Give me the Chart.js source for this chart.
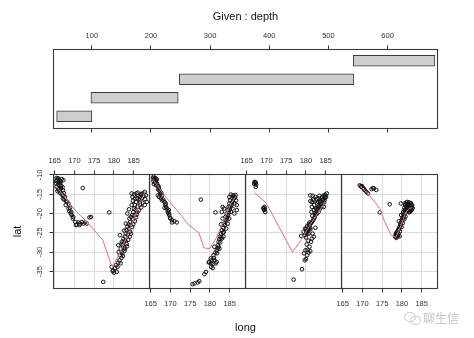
<!DOCTYPE html>
<html>
<head>
<meta charset="utf-8">
<script src="https://cdn.jsdelivr.net/npm/chart.js@4/dist/chart.umd.min.js"></script>
<style>
html, body { margin: 0; padding: 0; background: #fff; }
#wrap { position: relative; width: 474px; height: 338px; overflow: hidden; background: #fff;
        font-family: "Liberation Sans", Arial, sans-serif; }
#wrap canvas { position: absolute; left: 0; top: 0; }
#xlab { position: absolute; left: 245.5px; top: 321px; transform: translateX(-50%);
        font-size: 11px; line-height: 13px; color: #111; white-space: nowrap; }
#mark { position: absolute; left: 423px; top: 310px; font-family: "Noto Sans CJK SC", sans-serif;
        font-size: 12px; line-height: 16px; color: #c6c6c6; white-space: nowrap; }
.bub { position: absolute; border: 1px solid #cfcfcf; border-radius: 50%; }
</style>
</head>
<body>
<div id="wrap">
  <canvas id="given" width="474" height="338"></canvas>
  <canvas id="p0" width="474" height="338"></canvas>
  <canvas id="p1" width="474" height="338"></canvas>
  <canvas id="p2" width="474" height="338"></canvas>
  <canvas id="p3" width="474" height="338"></canvas>
  <div id="xlab">long</div>
  <div class="bub" style="left:404px;top:312px;width:10px;height:8px;"></div>
  <div class="bub" style="left:410px;top:316px;width:9px;height:7px;"></div>
  <div id="mark">聊生信</div>
</div>
<script>
// Conditioning intervals on depth (one bar per panel)
const depthTicks = [100, 200, 300, 400, 500, 600];
const intervalRow = [1, 2, 3, 4];
const intervalLow = [40.5, 98.5, 248, 542];
const intervalHigh = [100, 246, 543, 680];

// Panel axes
const longTicks = [165, 170, 175, 180, 185];
const latTicks = [-35, -30, -25, -20, -15, -10];

// Epicentres [long, lat] for each depth interval
const quakes1 = [
  [165.5,-10.8],[166.0,-11.0],[165.7,-11.4],[166.2,-11.6],[166.8,-11.1],[167.2,-11.4],[165.4,-12.2],[165.9,-12.5],
  [166.4,-12.2],[165.5,-13.1],[166.1,-13.4],[166.6,-13.5],[167.1,-14.0],[165.7,-14.2],[166.4,-14.7],[166.8,-15.1],
  [167.2,-15.4],[167.6,-15.7],[167.1,-16.1],[167.4,-16.4],[167.8,-17.8],[168.5,-17.4],[168.9,-18.5],[168.7,-19.4],
  [169.1,-20.0],[169.3,-20.4],[169.7,-20.9],[169.6,-21.3],[170.2,-22.2],[170.6,-22.8],[171.0,-22.3],[171.4,-22.6],
  [171.9,-22.2],[172.3,-22.6],[172.7,-22.3],[173.1,-22.6],[170.4,-23.0],[171.3,-23.0],[173.8,-21.0],[174.2,-20.9],
  [172.1,-13.4],[178.8,-19.7],[177.3,-37.7],[165.4,-11.6],[166.0,-12.0],[166.6,-12.8],[165.9,-13.7],[166.2,-14.2],
  [167.3,-14.7],[167.9,-16.8],[168.1,-17.0],[168.5,-18.7],[169.2,-19.6],[165.8,-10.9],[166.5,-11.7],[167.0,-13.2],
  [179.4,-33.8],[179.8,-34.7],[180.0,-35.3],[179.7,-34.9],[180.3,-34.1],[180.5,-33.4],[181.1,-32.7],[181.4,-32.1],
  [181.7,-32.9],[180.7,-35.1],[181.5,-30.8],[182.0,-29.9],[181.7,-29.1],[182.2,-28.2],[182.5,-27.3],[182.4,-26.5],
  [182.8,-26.0],[183.0,-25.2],[183.2,-24.3],[183.4,-23.4],[183.7,-22.8],[184.1,-22.2],[183.9,-21.3],[184.3,-20.9],
  [184.6,-20.4],[184.9,-19.6],[185.1,-18.7],[185.3,-17.8],[185.6,-17.0],[185.9,-16.1],[186.6,-15.7],[187.0,-15.1],
  [187.4,-14.8],[187.8,-14.4],[188.1,-15.3],[184.7,-15.7],[184.5,-14.8],[185.1,-15.1],[185.7,-14.8],[186.2,-15.4],
  [188.3,-17.0],[187.8,-17.8],[186.6,-17.8],[184.1,-24.7],[182.8,-29.1],[182.0,-27.3],[183.2,-27.9],[181.1,-28.2],
  [181.5,-25.6],[183.8,-18.9],[183.0,-22.6],[184.5,-17.8],[185.9,-19.6],[186.6,-17.0],[182.6,-28.8],[182.9,-27.0],
  [183.5,-25.5],[183.8,-24.0],[184.2,-23.0],[184.8,-21.5],[185.2,-20.5],[185.5,-19.0],[186.0,-18.2],[186.5,-16.5],
  [187.0,-16.0],[187.5,-15.5],[182.3,-31.0],[181.9,-31.5],[180.9,-33.8],[184.0,-26.0],[184.6,-23.5],[185.6,-21.0],
  [182.1,-30.4],[182.7,-29.6],[183.3,-28.5],[183.6,-26.8],[184.3,-25.2],[184.9,-22.8],[185.3,-22.0],[185.8,-20.2],
  [186.3,-19.2],[186.9,-18.4],[187.2,-17.2],[187.9,-16.3],[186.0,-14.6],[186.9,-14.9],[184.8,-16.7],[185.4,-16.2],
  [183.4,-20.0],[182.6,-24.4],[181.9,-27.9],[181.2,-30.0]
];
const quakes2 = [
  [165.7,-10.5],[166.0,-11.0],[166.2,-10.8],[166.4,-11.4],[165.7,-11.6],[166.1,-12.0],[166.6,-12.2],[166.4,-12.7],
  [166.8,-12.8],[167.1,-13.4],[167.2,-14.0],[167.4,-14.4],[166.8,-15.3],[167.1,-15.7],[167.6,-16.1],[167.9,-16.6],
  [168.5,-17.0],[168.7,-17.7],[168.9,-18.3],[169.1,-18.7],[169.3,-19.4],[169.6,-20.0],[169.7,-20.4],[169.9,-21.1],
  [170.4,-21.7],[171.0,-22.0],[171.6,-22.3],[170.4,-22.3],[169.6,-19.1],[168.5,-18.5],[167.9,-15.3],[165.9,-11.2],
  [166.3,-11.8],[165.8,-12.4],[167.0,-13.0],[167.5,-15.0],[168.2,-16.4],[168.8,-17.4],[169.4,-19.8],[170.0,-21.3],
  [165.6,-10.9],[166.5,-11.1],[166.9,-13.8],[167.7,-14.7],
  [177.7,-16.4],[181.4,-19.7],
  [175.6,-38.3],[176.1,-38.1],[176.9,-37.8],[177.3,-37.5],[178.6,-35.7],[179.0,-35.1],[179.8,-32.5],[180.3,-32.9],
  [180.3,-33.8],[180.7,-34.1],[180.4,-32.1],[181.1,-32.1],[181.5,-32.9],[179.7,-32.7],[180.9,-30.8],[181.4,-30.1],
  [181.7,-29.5],[181.1,-28.6],[182.0,-28.2],[182.2,-27.3],[182.4,-26.6],[182.5,-26.0],[182.8,-25.2],[183.0,-24.3],
  [183.4,-23.7],[182.8,-22.8],[183.6,-22.6],[184.1,-21.7],[183.9,-20.9],[184.2,-20.0],[184.5,-19.1],[184.7,-18.3],
  [184.9,-17.4],[185.1,-16.6],[184.9,-15.7],[185.3,-15.1],[185.9,-15.3],[186.4,-15.7],[186.6,-16.6],[186.2,-17.4],
  [186.8,-17.8],[185.7,-18.7],[185.3,-19.6],[186.2,-20.0],[184.9,-21.3],[184.5,-22.6],[183.2,-18.3],[183.6,-18.7],
  [183.0,-19.6],[184.1,-23.9],[183.4,-26.0],[182.4,-29.1],[181.8,-30.3],[183.2,-21.3],[185.7,-16.1],[186.8,-19.1],
  [182.0,-29.0],[182.6,-27.5],[183.0,-26.5],[183.5,-24.8],[183.8,-23.0],[184.3,-21.2],[184.6,-20.4],[185.0,-18.8],
  [185.4,-17.8],[185.8,-16.8],[186.2,-16.0],[181.0,-31.5],[180.8,-33.0],[181.7,-32.5],[180.2,-31.6],
  [182.2,-28.6],[182.9,-26.2],[183.3,-25.0],[183.9,-22.2],[184.4,-20.9],[184.8,-19.7],[185.2,-18.3],[185.6,-17.2],
  [186.0,-15.6],[186.5,-15.2]
];
const quakes3 = [
  [167.1,-11.9],[167.2,-12.2],[167.4,-12.5],[166.9,-12.3],[167.3,-13.1],[167.0,-11.8],[167.3,-12.0],
  [169.3,-18.5],[169.6,-18.9],[169.7,-19.6],[169.4,-19.1],[169.2,-18.7],[169.5,-18.3],
  [176.9,-37.1],[179.0,-34.4],[179.7,-32.1],[180.0,-31.8],[180.3,-30.8],[180.7,-30.1],[181.1,-29.7],[180.9,-28.6],
  [181.3,-27.3],[181.5,-26.5],[179.4,-24.7],[178.8,-25.8],[179.8,-23.9],[180.3,-23.3],[180.7,-22.8],[181.1,-23.7],
  [181.7,-25.2],[182.0,-26.0],[180.7,-25.2],[180.3,-24.7],[181.5,-22.2],[182.0,-21.3],[182.4,-20.4],[182.8,-20.0],
  [183.2,-19.6],[183.6,-18.7],[183.9,-18.3],[184.2,-17.4],[184.7,-16.6],[185.1,-15.7],[184.9,-15.1],[184.5,-15.3],
  [184.1,-15.7],[183.2,-16.1],[182.4,-15.7],[182.0,-16.6],[181.5,-17.0],[181.1,-16.8],[181.5,-18.3],[182.0,-19.1],
  [182.8,-17.4],[183.2,-18.3],[184.5,-18.3],[185.3,-14.8],[184.9,-15.9],[182.5,-18.7],[183.6,-17.0],[181.4,-19.6],
  [181.1,-15.3],[181.7,-15.4],[182.4,-23.7],[180.3,-25.2],[179.7,-25.6],[181.1,-24.1],[180.7,-23.9],[180.0,-24.0],
  [180.5,-23.8],[181.0,-23.0],[181.3,-22.5],[181.8,-21.8],[182.2,-21.0],[182.6,-20.0],[183.0,-19.0],[183.4,-18.0],
  [183.8,-17.5],[184.3,-16.5],[184.8,-15.5],[182.7,-16.2],[183.4,-15.4],[180.2,-28.0],[180.6,-27.0],[179.9,-29.5],
  [180.1,-24.6],[180.6,-24.3],[180.9,-22.3],[181.6,-20.6],[182.3,-19.8],[182.9,-18.6],[183.5,-16.6],[184.0,-16.2],
  [184.6,-17.1],[183.1,-17.0],[182.1,-17.8],[181.8,-16.3],[179.5,-30.3],[180.4,-29.4],[180.0,-26.2]
];
const quakes4 = [
  [169.3,-12.7],[169.6,-12.9],[169.7,-13.1],[169.9,-12.9],[170.2,-13.4],[170.4,-13.7],[170.6,-14.0],[171.0,-14.4],
  [171.4,-14.8],[172.3,-13.7],[172.7,-13.4],[172.9,-13.5],[173.5,-13.9],[174.4,-19.7],[176.9,-17.6],[179.7,-17.4],
  [180.7,-17.4],[181.1,-17.2],[181.5,-17.6],[182.0,-17.4],[182.4,-17.8],[181.1,-18.3],[181.7,-18.5],[182.2,-18.9],
  [182.5,-18.3],[181.4,-19.1],[182.0,-19.6],[180.7,-19.1],[180.3,-19.6],[180.5,-20.4],[180.3,-21.3],[180.0,-21.7],
  [179.8,-22.3],[179.7,-23.0],[179.4,-23.4],[179.2,-23.9],[179.0,-24.3],[178.8,-24.7],[178.7,-25.2],[178.5,-25.6],
  [178.3,-26.0],[178.6,-26.3],[179.0,-25.8],[179.4,-25.9],[179.8,-20.4],[180.3,-20.0],[181.3,-17.0],[181.8,-17.1],
  [182.3,-17.3],[182.6,-17.9],[182.7,-18.6],[181.9,-18.0],[181.2,-18.8],[180.9,-19.8],[181.6,-19.3],[180.8,-17.8],
  [180.6,-18.5],[182.3,-19.3],[180.9,-20.8],[180.6,-21.5],[180.2,-22.5],[179.9,-23.5],[179.5,-24.6],[179.1,-25.2],
  [178.6,-25.0],[178.4,-25.4],[178.5,-26.1],[179.2,-22.0],[181.0,-17.6],[181.6,-17.9],[182.1,-18.2],[182.5,-19.0],
  [181.4,-18.4],[180.9,-18.9],[181.8,-19.7],[180.4,-20.9],[180.1,-21.1],[179.6,-22.7],[179.3,-24.0],[178.9,-25.6]
];

// Local smoother through each panel [long, lat]
const smooth1 = [[165.5,-13.0],[167.6,-15.9],[170.5,-19.5],[173.3,-22.3],[177.2,-26.9],[179.3,-33.2],[179.8,-33.6],
                 [181.5,-30.1],[184.0,-24.3],[186.2,-18.3],[188.0,-14.0]];
const smooth2 = [[165.5,-11.1],[168.1,-14.8],[170.3,-17.5],[174.7,-23.0],[177.2,-25.0],[178.5,-28.9],[179.9,-29.1],
                 [181.5,-26.5],[183.6,-21.7],[185.3,-17.4],[186.9,-15.1]];
const smooth3 = [[167.0,-14.6],[169.9,-17.2],[176.6,-30.0],[178.9,-26.7],[181.0,-23.0],[183.3,-19.5],[184.8,-17.0]];
const smooth4 = [[169.3,-12.9],[171.4,-14.8],[174.4,-18.7],[175.6,-22.0],[177.3,-25.7],[178.5,-26.1],[179.8,-23.0],
                 [181.0,-19.6],[181.9,-18.7],[182.5,-18.5]];

const FAMILY = '"Liberation Sans", Arial, sans-serif';
const TICK_FONT = { family: FAMILY, size: 7.5 };
const INK = '#333';
const GRID = '#dcdcdc';

// Draws a box round the plotting region
const frame = {
  id: 'frame',
  afterDraw(chart) {
    const a = chart.chartArea, c = chart.ctx;
    c.save();
    c.strokeStyle = '#3a3a3a';
    c.lineWidth = 1.1;
    c.strokeRect(a.left, a.top, a.right - a.left, a.bottom - a.top);
    c.restore();
  }
};
const useTicks = list => s => { s.ticks = list.map(v => ({ value: v })); };

// Given panel: horizontal floating bars for the depth intervals
new Chart(document.getElementById('given'), {
  type: 'bar',
  data: {
    datasets: [{
      data: intervalRow.map((r, i) => ({ x: [intervalLow[i], intervalHigh[i]], y: r })),
      backgroundColor: '#cecece',
      borderColor: '#3a3a3a',
      borderWidth: 1,
      borderSkipped: false,
      barThickness: 11
    }]
  },
  options: {
    indexAxis: 'y',
    responsive: false, animation: false, devicePixelRatio: 1, events: [],
    layout: { padding: { left: 53.5, right: 36.5, top: 0, bottom: 199.5 } },
    plugins: {
      legend: { display: false },
      tooltip: { enabled: false },
      title: { display: true, text: 'Given : depth', color: '#111',
               font: { family: FAMILY, size: 11, weight: 'normal' },
               padding: { top: 10.4, bottom: 0 } }
    },
    scales: {
      x: { type: 'linear', position: 'top', min: 35.2, max: 684.4,
           afterBuildTicks: useTicks(depthTicks),
           grid: { drawOnChartArea: false, tickLength: 4, tickColor: INK },
           border: { display: false },
           ticks: { font: TICK_FONT, color: INK, padding: 4.8 },
           afterFit: s => { s.height = 25.9; } },
      x2: { type: 'linear', axis: 'x', position: 'bottom', min: 35.2, max: 684.4,
            afterBuildTicks: useTicks(depthTicks),
            grid: { drawOnChartArea: false, tickLength: 4, tickColor: INK },
            border: { display: false },
            ticks: { display: false },
            afterFit: s => { s.height = 10; } },
      y: { type: 'linear', min: 0.34, max: 4.61, offset: false, display: false }
    }
  },
  plugins: [frame]
});

// Dependence panels: lat against long within each depth interval
function panel(id, i, pts, smooth) {
  const L = 53.5 + 96 * i, R = L + 96;
  const onTop = i % 2 === 0;
  new Chart(document.getElementById(id), {
    type: 'scatter',
    data: {
      datasets: [
        { data: smooth.map(([x, y]) => ({ x, y })), showLine: true, borderColor: '#E07088',
          borderWidth: 1, pointRadius: 0, order: 0 },
        { data: pts.map(([x, y]) => ({ x, y })), pointRadius: 1.8, borderWidth: 1,
          borderColor: '#111', backgroundColor: 'rgba(0,0,0,0)', order: 1 }
      ]
    },
    options: {
      responsive: false, animation: false, devicePixelRatio: 1, events: [],
      layout: { padding: { left: i === 0 ? 0 : L, right: 474 - R,
                           top: onTop ? 144.5 : 174.5, bottom: onTop ? 49.5 : 19.5 } },
      plugins: { legend: { display: false }, tooltip: { enabled: false } },
      scales: {
        x: { type: 'linear', position: onTop ? 'top' : 'bottom', min: 164.7, max: 189,
             afterBuildTicks: useTicks(longTicks),
             grid: { color: GRID, tickColor: INK, tickLength: 4 },
             border: { display: false },
             ticks: { font: TICK_FONT, color: INK, padding: onTop ? 5.3 : 6.8 },
             afterFit: s => { s.height = 30; } },
        y: { type: 'linear', position: 'left', min: -39.4, max: -9.9,
             afterBuildTicks: useTicks(latTicks),
             grid: { color: GRID, tickColor: INK, tickLength: 4, drawTicks: i === 0 },
             border: { display: false },
             ticks: { display: i === 0, font: TICK_FONT, color: INK, padding: 3.8,
                      minRotation: 90, maxRotation: 90, crossAlign: 'center' },
             title: { display: i === 0, text: 'lat', color: '#111',
                      font: { family: FAMILY, size: 11 }, padding: { top: 11.7, bottom: 0 } },
             afterFit: s => { s.width = i === 0 ? 53.5 : 0; } }
      }
    },
    plugins: [frame]
  });
}

panel('p0', 0, quakes1, smooth1);
panel('p1', 1, quakes2, smooth2);
panel('p2', 2, quakes3, smooth3);
panel('p3', 3, quakes4, smooth4);
</script>
</body>
</html>
